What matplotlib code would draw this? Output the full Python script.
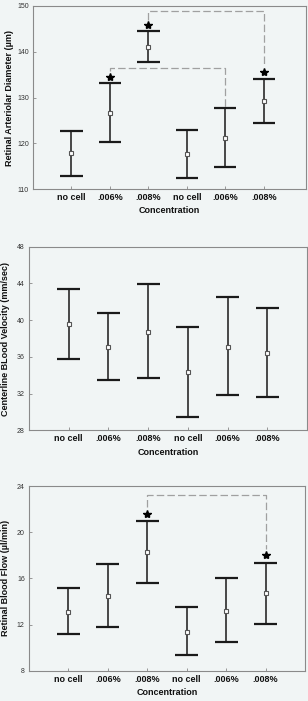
import matplotlib
matplotlib.use('Agg')
import matplotlib.pyplot as plt

plt.rcParams['font.family'] = ['Liberation Sans', 'DejaVu Sans']

CATEGORIES = ['no cell', '.006%', '.008%', 'no cell', '.006%', '.008%']
XPOS = [1, 2, 3, 4, 5, 6]

# panel 1: retinal arteriolar diameter
DIAM_MEAN = [117.8, 126.7, 141.1, 117.7, 121.2, 129.2]
DIAM_LOW = [112.9, 120.2, 137.7, 112.4, 114.8, 124.4]
DIAM_HIGH = [122.75, 133.2, 144.5, 123.0, 127.6, 134.0]
DIAM_STARS_X = [2, 3, 6]
DIAM_STARS_Y = [134.5, 145.9, 135.5]
# brackets: x left, x right, y level, left drop, right drop
DIAM_BRACKETS = [(2, 5, 136.4, 135.7, 127.6), (3, 6, 149.0, 147.0, 136.9)]

# panel 2: centerline velocity
VEL_MEAN = [39.55, 37.05, 38.7, 34.4, 37.05, 36.45]
VEL_LOW = [35.75, 33.45, 33.7, 29.45, 31.8, 31.65]
VEL_HIGH = [43.35, 40.8, 43.9, 39.3, 42.5, 41.35]

# panel 3: retinal blood flow
FLOW_MEAN = [13.1, 14.46, 18.25, 11.34, 13.2, 14.72]
FLOW_LOW = [11.17, 11.75, 15.62, 9.32, 10.5, 12.03]
FLOW_HIGH = [15.15, 17.27, 20.97, 13.48, 16.0, 17.35]
FLOW_STARS_X = [3, 6]
FLOW_STARS_Y = [21.6, 18.0]
FLOW_BRACKETS = [(3, 6, 23.2, 22.2, 18.5)]

BG = '#f1f5f5'


def draw_panel(ax, mean, low, high, ylim, yticks, ylabel, xlim):
    '''draw one error bar panel'''
    ax.set_facecolor(BG)
    for i, x in enumerate(XPOS):
        ax.vlines(x, low[i], high[i], color='#2a2a2a', lw=1.2, zorder=2)
        ax.hlines([low[i], high[i]], x - 0.29, x + 0.29, color='#1a1a1a', lw=1.6, zorder=2)
    ax.plot(XPOS, mean, ls='none', marker='s', ms=3.2, mfc='white',
            mec='#555555', mew=0.8, zorder=3)
    ax.set_xlim(*xlim)
    ax.set_ylim(*ylim)
    ax.set_yticks(yticks)
    ax.set_yticklabels([str(t) for t in yticks], fontsize=5, color='#333333')
    ax.set_xticks(XPOS)
    ax.set_xticklabels(CATEGORIES, fontsize=6.5, fontweight='bold', color='#111111')
    ax.tick_params(axis='both', direction='in', length=2, width=0.6, color='#888888')
    ax.tick_params(axis='x', pad=3)
    ax.tick_params(axis='y', pad=3)
    for sp in ax.spines.values():
        sp.set_color('#8a8a8a')
        sp.set_linewidth(0.8)
    ax.set_ylabel(ylabel, fontsize=6.5, fontweight='bold', color='#111111')
    ax.set_xlabel('Concentration', fontsize=6.5, fontweight='bold', color='#111111')


def draw_brackets(ax, brackets):
    for xl, xr, y, dl, dr in brackets:
        ax.plot([xl, xl, xr, xr], [dl, y, y, dr], color='#a0a0a0', lw=0.9,
                dashes=(6, 2.5), zorder=1)


fig = plt.figure(figsize=(3.08, 7.01), dpi=100)
fig.patch.set_facecolor(BG)

ax1 = fig.add_axes([33 / 308, 1 - 189 / 701, 273 / 308, 183 / 701])
draw_panel(ax1, DIAM_MEAN, DIAM_LOW, DIAM_HIGH, (110, 150), [110, 120, 130, 140, 150],
           'Retinal Arteriolar Diameter (µm)', (0, 7.1))
draw_brackets(ax1, DIAM_BRACKETS)
ax1.plot(DIAM_STARS_X, DIAM_STARS_Y, ls='none', marker='*', ms=6, color='black', zorder=4)

ax2 = fig.add_axes([29 / 308, 1 - 430.3 / 701, 278 / 308, 183.6 / 701])
draw_panel(ax2, VEL_MEAN, VEL_LOW, VEL_HIGH, (28, 48), [28, 32, 36, 40, 44, 48],
           'Centerline BLood Velocity (mm/sec)', (0, 7))

ax3 = fig.add_axes([29 / 308, 1 - 670.7 / 701, 276 / 308, 184.7 / 701])
draw_panel(ax3, FLOW_MEAN, FLOW_LOW, FLOW_HIGH, (8, 24), [8, 12, 16, 20, 24],
           'Retinal Blood Flow (µl/min)', (0, 7))
draw_brackets(ax3, FLOW_BRACKETS)
ax3.plot(FLOW_STARS_X, FLOW_STARS_Y, ls='none', marker='*', ms=6, color='black', zorder=4)

for ax in (ax1, ax2, ax3):
    ax.yaxis.set_label_coords(-19 / 276, 0.5)
    ax.xaxis.set_label_coords(0.5, -0.095)

fig.savefig('out.png', dpi=100, facecolor=BG)
